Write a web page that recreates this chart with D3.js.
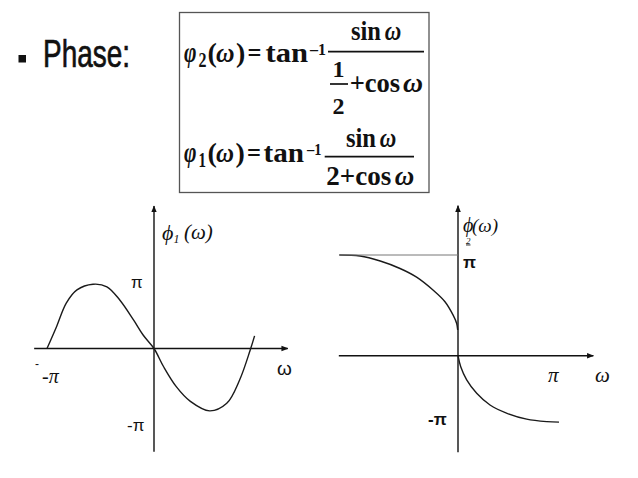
<!DOCTYPE html>
<html>
<head>
<meta charset="utf-8">
<script src="https://cdn.jsdelivr.net/npm/d3@7"></script>
<style>
  body { margin: 0; background: #fff; }
  svg { display: block; }
</style>
</head>
<body>
<div id="slide"></div>
<script>
//Curve samples, omega and phase both in units of pi
var phi1Omega = [-1.0, -0.91, -0.82, -0.72, -0.57, -0.44, -0.32, -0.19, -0.10, 0, 0.09, 0.21, 0.34, 0.52, 0.68, 0.80, 0.90, 0.94];
var phi1Phase = [0, 0.35, 0.72, 0.93, 1.02, 0.98, 0.77, 0.45, 0.21, 0, -0.29, -0.61, -0.84, -0.99, -0.87, -0.50, -0.02, 0.20];

//phi2 is drawn in two branches, it jumps at omega = 0
var phi2UpperOmega = [-1.175, -0.97, -0.77, -0.574, -0.41, -0.245, -0.129, -0.047, -0.013, -0.003];
var phi2UpperPhase = [1.0, 0.99, 0.94, 0.866, 0.78, 0.65, 0.536, 0.40, 0.32, 0.255];
var phi2LowerOmega = [0, 0.027, 0.086, 0.185, 0.317, 0.48, 0.68, 0.88, 1.0];
var phi2LowerPhase = [0, -0.11, -0.24, -0.373, -0.49, -0.57, -0.63, -0.655, -0.66];

//Reference level drawn on the right plot
var phi2Asymptote = 1.0;

var width = 638, height = 478;

var svg = d3.select("#slide").append("svg").attr("width", width).attr("height", height);

var defs = svg.append("defs");
defs.append("marker").attr("id", "arrow")
    .attr("viewBox", "0 0 10 10").attr("refX", 9).attr("refY", 5)
    .attr("markerWidth", 7).attr("markerHeight", 7).attr("markerUnits", "userSpaceOnUse")
    .attr("orient", "auto")
    .append("path").attr("d", "M0,1 L10,5 L0,9 Z").attr("fill", "#111");

//---- Title line ----
svg.append("rect").attr("x", 18.5).attr("y", 55).attr("width", 7.5).attr("height", 7.5).attr("fill", "#111");
svg.append("text").attr("x", 43).attr("y", 67)
    .attr("font-family", "Liberation Sans, Arial, sans-serif").attr("font-size", 39)
    .attr("textLength", 87).attr("lengthAdjust", "spacingAndGlyphs")
    .attr("fill", "#111").attr("stroke", "#111").attr("stroke-width", 0.7)
    .text("Phase:");

//---- Formula box ----
var serif = "Liberation Serif, DejaVu Serif, serif";
var fbox = svg.append("g").attr("font-family", serif).attr("font-weight", "bold").attr("fill", "#111");

fbox.append("rect").attr("x", 179.5).attr("y", 12.5).attr("width", 249.5).attr("height", 180)
    .attr("fill", "none").attr("stroke", "#555").attr("stroke-width", 1.3);

//one glyph run of the formula: [text, x, baseline, size, italic, length, anchor]
function piece(p)
{
    let t = fbox.append("text").attr("x", p[1]).attr("y", p[2]).attr("font-size", p[3])
        .attr("text-anchor", p[6] || "start").text(p[0]);
    if(p[4]) t.attr("font-style", "italic");
    if(p[5]) t.attr("textLength", p[5]).attr("lengthAdjust", "spacingAndGlyphs");
}

function frac(x1, x2, y)
{
    fbox.append("line").attr("x1", x1).attr("x2", x2).attr("y1", y).attr("y2", y)
        .attr("stroke", "#111").attr("stroke-width", 1.7);
}

//phi2 line
[
    ["\u03C6", 184, 61.5, 29, true, 12.5],
    ["2", 198.5, 67, 21, false, 8],
    ["(", 207.5, 61.5, 28, false, 0],
    ["\u03C9", 216, 61.5, 28, true, 18.5],
    [")", 236, 61.5, 28, false, 0],
    ["=", 247.5, 61.5, 28, false, 14],
    ["tan", 265.5, 61.5, 28, false, 42.5],
    ["\u20131", 310, 55, 17, false, 16],
    ["sin", 351, 40, 28, false, 30],
    ["\u03C9", 384.7, 40, 28, true, 16.5],
    ["1", 338.5, 77, 24, false, 0, "middle"],
    ["2", 338.5, 113.5, 24, false, 0, "middle"],
    ["+cos", 349.7, 91.7, 28, false, 50.5],
    ["\u03C9", 403, 91.7, 28, true, 20]
].forEach(piece);
frac(328, 424, 51.7);
frac(330, 348, 84);

//phi1 line
[
    ["\u03C6", 184, 161.5, 29, true, 12.5],
    ["1", 198.5, 167, 21, false, 7.5],
    ["(", 207.5, 161.5, 28, false, 0],
    ["\u03C9", 216, 161.5, 28, true, 18],
    [")", 235.5, 161.5, 28, false, 0],
    ["=", 247, 161.5, 28, false, 14],
    ["tan", 263.5, 161.5, 28, false, 40.5],
    ["\u20131", 307, 155, 17, false, 14.5],
    ["sin", 346, 146.7, 28, false, 30],
    ["\u03C9", 379.7, 146.7, 28, true, 16.5],
    ["2+cos", 326.3, 185, 28, false, 65],
    ["\u03C9", 394.7, 185, 28, true, 19.5]
].forEach(piece);
frac(324.7, 414, 156.7);

//---- Plots ----
var sans = "Liberation Sans, Arial, sans-serif";

function drawPlot(opts)
{
    let x = d3.scaleLinear().domain([0, 1]).range([opts.x0, opts.x0 + opts.xUnit]);
    let y = d3.scaleLinear().domain([0, 1]).range([opts.y0, opts.y0 - opts.yUnit]);
    let g = svg.append("g");

    //axes with arrowheads
    g.append("line").attr("x1", x(opts.xExtent[0])).attr("x2", x(opts.xExtent[1]))
        .attr("y1", y(0)).attr("y2", y(0))
        .attr("stroke", "#111").attr("stroke-width", 1.4).attr("marker-end", "url(#arrow)");
    g.append("line").attr("x1", x(0)).attr("x2", x(0))
        .attr("y1", y(opts.yExtent[0])).attr("y2", y(opts.yExtent[1]))
        .attr("stroke", "#111").attr("stroke-width", 1.4).attr("marker-end", "url(#arrow)");

    let line = d3.line().x(d => x(d[0])).y(d => y(d[1])).curve(d3.curveCatmullRom.alpha(0.5));

    opts.series.forEach(function(s)
    {
        g.append("path").datum(d3.zip(s[0], s[1])).attr("d", line)
            .attr("fill", "none").attr("stroke", "#1a1a1a").attr("stroke-width", 1.4);
    });

    return {g: g, x: x, y: y};
}

function label(g, x, y, str, font, size, extra)
{
    let t = g.append("text").attr("x", x).attr("y", y)
        .attr("font-family", font).attr("font-size", size).attr("fill", "#111").text(str);
    if(extra) Object.keys(extra).forEach(k => t.attr(k, extra[k]));
    return t;
}

//Left plot: phi1
var p1 = drawPlot({
    x0: 154, xUnit: 107, y0: 348.5, yUnit: 63,
    xExtent: [-1.12, 1.25], yExtent: [-1.64, 2.26],
    series: [[phi1Omega, phi1Phase]]
});

label(p1.g, p1.x(0) + 8, 240, "\u03D5", serif, 22, {"font-style": "italic"});
label(p1.g, p1.x(0) + 19.5, 243, "1", serif, 12, {"font-style": "italic"});
label(p1.g, p1.x(0) + 30, 239, "(\u03C9)", serif, 21, {"font-style": "italic"});

label(p1.g, p1.x(0) - 23, p1.y(1) + 2, "\u03C0", sans, 17);
label(p1.g, p1.x(0) - 27, p1.y(-1) + 19, "-\u03C0", sans, 17);
label(p1.g, p1.x(-1) - 5, p1.y(0) + 34, "-\u03C0", serif, 20, {"font-style": "italic"});
label(p1.g, p1.x(-1) - 12, p1.y(0) + 19, "-", sans, 12);
label(p1.g, 277, p1.y(0) + 26, "\u03C9", sans, 19);

//Right plot: phi2
var p2 = drawPlot({
    x0: 458, xUnit: 101, y0: 355.7, yUnit: 100.7,
    xExtent: [-1.18, 1.34], yExtent: [-0.96, 1.49],
    series: [[phi2UpperOmega, phi2UpperPhase], [phi2LowerOmega, phi2LowerPhase]]
});

p2.g.append("line").attr("x1", p2.x(phi2UpperOmega[0])).attr("x2", p2.x(0))
    .attr("y1", p2.y(phi2Asymptote)).attr("y2", p2.y(phi2Asymptote))
    .attr("stroke", "#777").attr("stroke-width", 1);

label(p2.g, p2.x(0) + 5, 232, "\u03D5", serif, 20, {"font-style": "italic"});
label(p2.g, p2.x(0) + 14, 232, "(\u03C9)", serif, 19, {"font-style": "italic"});
label(p2.g, p2.x(0) + 8, 243.5, "2", serif, 9, {"font-style": "italic", "text-decoration": "underline"});

label(p2.g, p2.x(0) + 5, p2.y(1) + 13, "\u03C0", sans, 17, {"font-weight": "bold"});
label(p2.g, p2.x(0) - 30, 425, "-\u03C0", sans, 17, {"font-weight": "bold"});
label(p2.g, 548, 382, "\u03C0", serif, 21, {"font-style": "italic"});
label(p2.g, 595, 382, "\u03C9", serif, 21, {"font-style": "italic"});
</script>
</body>
</html>
